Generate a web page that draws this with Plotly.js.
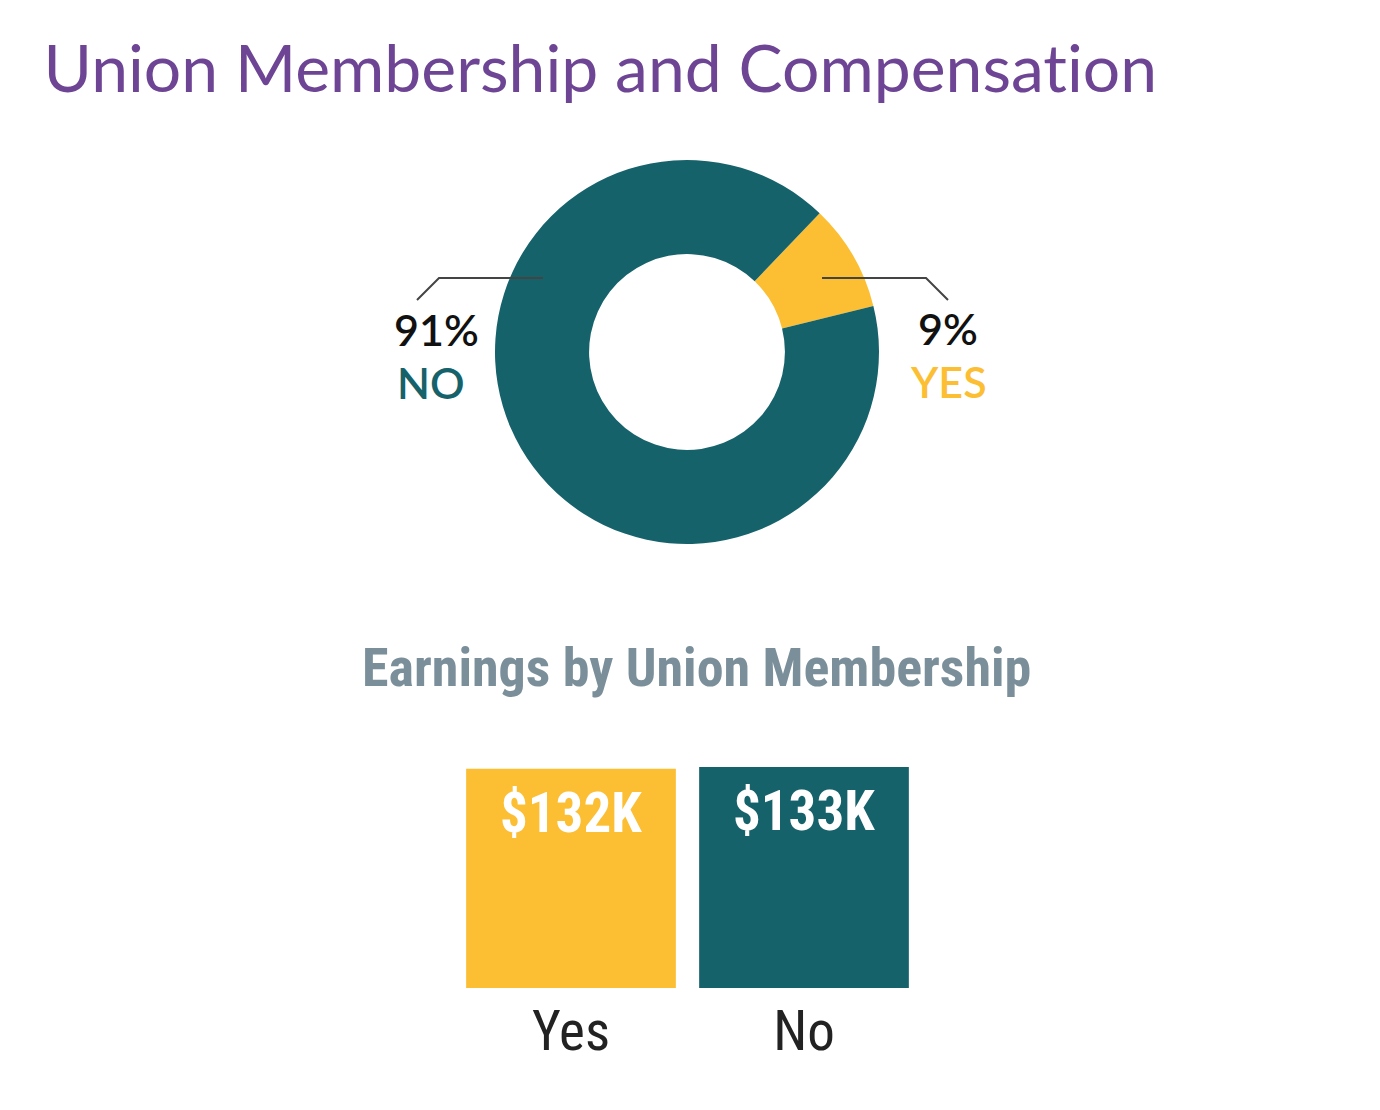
<!DOCTYPE html>
<html>
<head>
<meta charset="utf-8">
<script src="https://cdn.plot.ly/plotly-3.0.1.min.js"></script>
<style>
  html, body { margin: 0; padding: 0; background: #ffffff; }
  #chart { width: 1380px; height: 1110px; }
  #chart text {
    font-variant-ligatures: none !important;
    font-feature-settings: "liga" 0, "clig" 0 !important;
  }
</style>
</head>
<body>
<div id="chart"></div>
<script>
const W = 1380, H = 1110;

const TEAL = '#16626b';
const GOLD = '#fcbe32';
const PURPLE = '#6e4594';
const SLATE = '#7a8f9a';

// union membership share (%)
const memberLabels = ['YES', 'NO'];
const memberShare = [9, 91];
const memberColors = [GOLD, TEAL];

// median earnings, $K
const earnCats = ['Yes', 'No'];
const earnValues = [132, 133];
const earnColors = [GOLD, TEAL];

const HEAD_FONT = 'Lato, "Noto Sans", sans-serif';
const COND_FONT = '"Roboto Condensed", "Liberation Sans Narrow", "DejaVu Sans Condensed", Roboto, sans-serif';

// pixel -> paper helpers
const px = (x) => x / W;
const py = (y) => 1 - y / H;

const donut = {
    type: 'pie',
    labels: memberLabels,
    values: memberShare,
    marker: { colors: memberColors },
    hole: 0.51,
    sort: false,
    direction: 'clockwise',
    rotation: 43.7,
    textinfo: 'none',
    hoverinfo: 'label+percent',
    domain: { x: [px(495), px(879)], y: [py(544), py(160)] }
};

const bars = {
    type: 'bar',
    x: earnCats,
    y: earnValues,
    marker: { color: earnColors },
    hoverinfo: 'x+y',
    xaxis: 'x',
    yaxis: 'y'
};

/**
 * Free text in pixel coordinates (converted to paper).
 */
function note(text, x, y, font, anchor, boxH) {
    const a = {
        xref: 'paper', yref: 'paper',
        x: px(x), y: py(y),
        xanchor: anchor || 'center', yanchor: 'middle',
        showarrow: false,
        text: text,
        font: font
    };
    if (boxH) {
        a.height = boxH;
        a.borderpad = 0;
    }
    return a;
}

const pctFont = { family: HEAD_FONT, size: 43, color: '#111111', weight: 600 };
const tagFont = (c) => Object.assign({}, pctFont, { color: c });

const annotations = [
    note('Union Membership and Compensation', 41, 66,
         { family: HEAD_FONT, size: 66, color: PURPLE }, 'left'),
    note(memberShare[1] + '%', 436, 329, pctFont, 'center', 46),
    note(memberLabels[1], 431, 382, tagFont(memberColors[1]), 'center', 46),
    note(memberShare[0] + '%', 948, 328, pctFont, 'center', 46),
    note(memberLabels[0], 948, 381, tagFont(memberColors[0]), 'center', 46),
    note('Earnings by Union Membership', 696, 667,
         { family: COND_FONT, size: 54, color: SLATE, weight: 'bold' })
];

// value labels sitting at the top of each bar
earnCats.forEach((c, i) => {
    annotations.push({
        xref: 'x', yref: 'y', x: c, y: earnValues[i],
        xanchor: 'center', yanchor: 'top', yshift: -10,
        showarrow: false,
        text: '$' + earnValues[i] + 'K',
        font: { family: COND_FONT, size: 55, color: '#ffffff', weight: 'bold' }
    });
});

const lineStyle = { color: '#444444', width: 2 };
const shapes = [
    { type: 'path', xref: 'paper', yref: 'paper',
      path: 'M ' + px(543) + ',' + py(278) + ' L ' + px(439) + ',' + py(278) + ' L ' + px(417) + ',' + py(300),
      line: lineStyle },
    { type: 'path', xref: 'paper', yref: 'paper',
      path: 'M ' + px(822) + ',' + py(278) + ' L ' + px(926) + ',' + py(278) + ' L ' + px(948) + ',' + py(300),
      line: lineStyle }
];

const layout = {
    width: W,
    height: H,
    margin: { l: 0, r: 0, t: 0, b: 0 },
    paper_bgcolor: '#ffffff',
    plot_bgcolor: '#ffffff',
    showlegend: false,
    bargap: 0.1,
    xaxis: {
        domain: [px(454.5), px(920.5)],
        range: [-0.5, 1.5],
        showgrid: false, zeroline: false, showline: false,
        ticks: '',
        ticklabelstandoff: 6,
        tickfont: { family: COND_FONT, size: 55, color: '#222222' },
        fixedrange: true
    },
    yaxis: {
        domain: [py(988), py(767)],
        range: [0, 133],
        visible: false,
        fixedrange: true
    },
    annotations: annotations,
    shapes: shapes
};

Plotly.newPlot('chart', [donut, bars], layout, { displayModeBar: false, staticPlot: true });
</script>
</body>
</html>
